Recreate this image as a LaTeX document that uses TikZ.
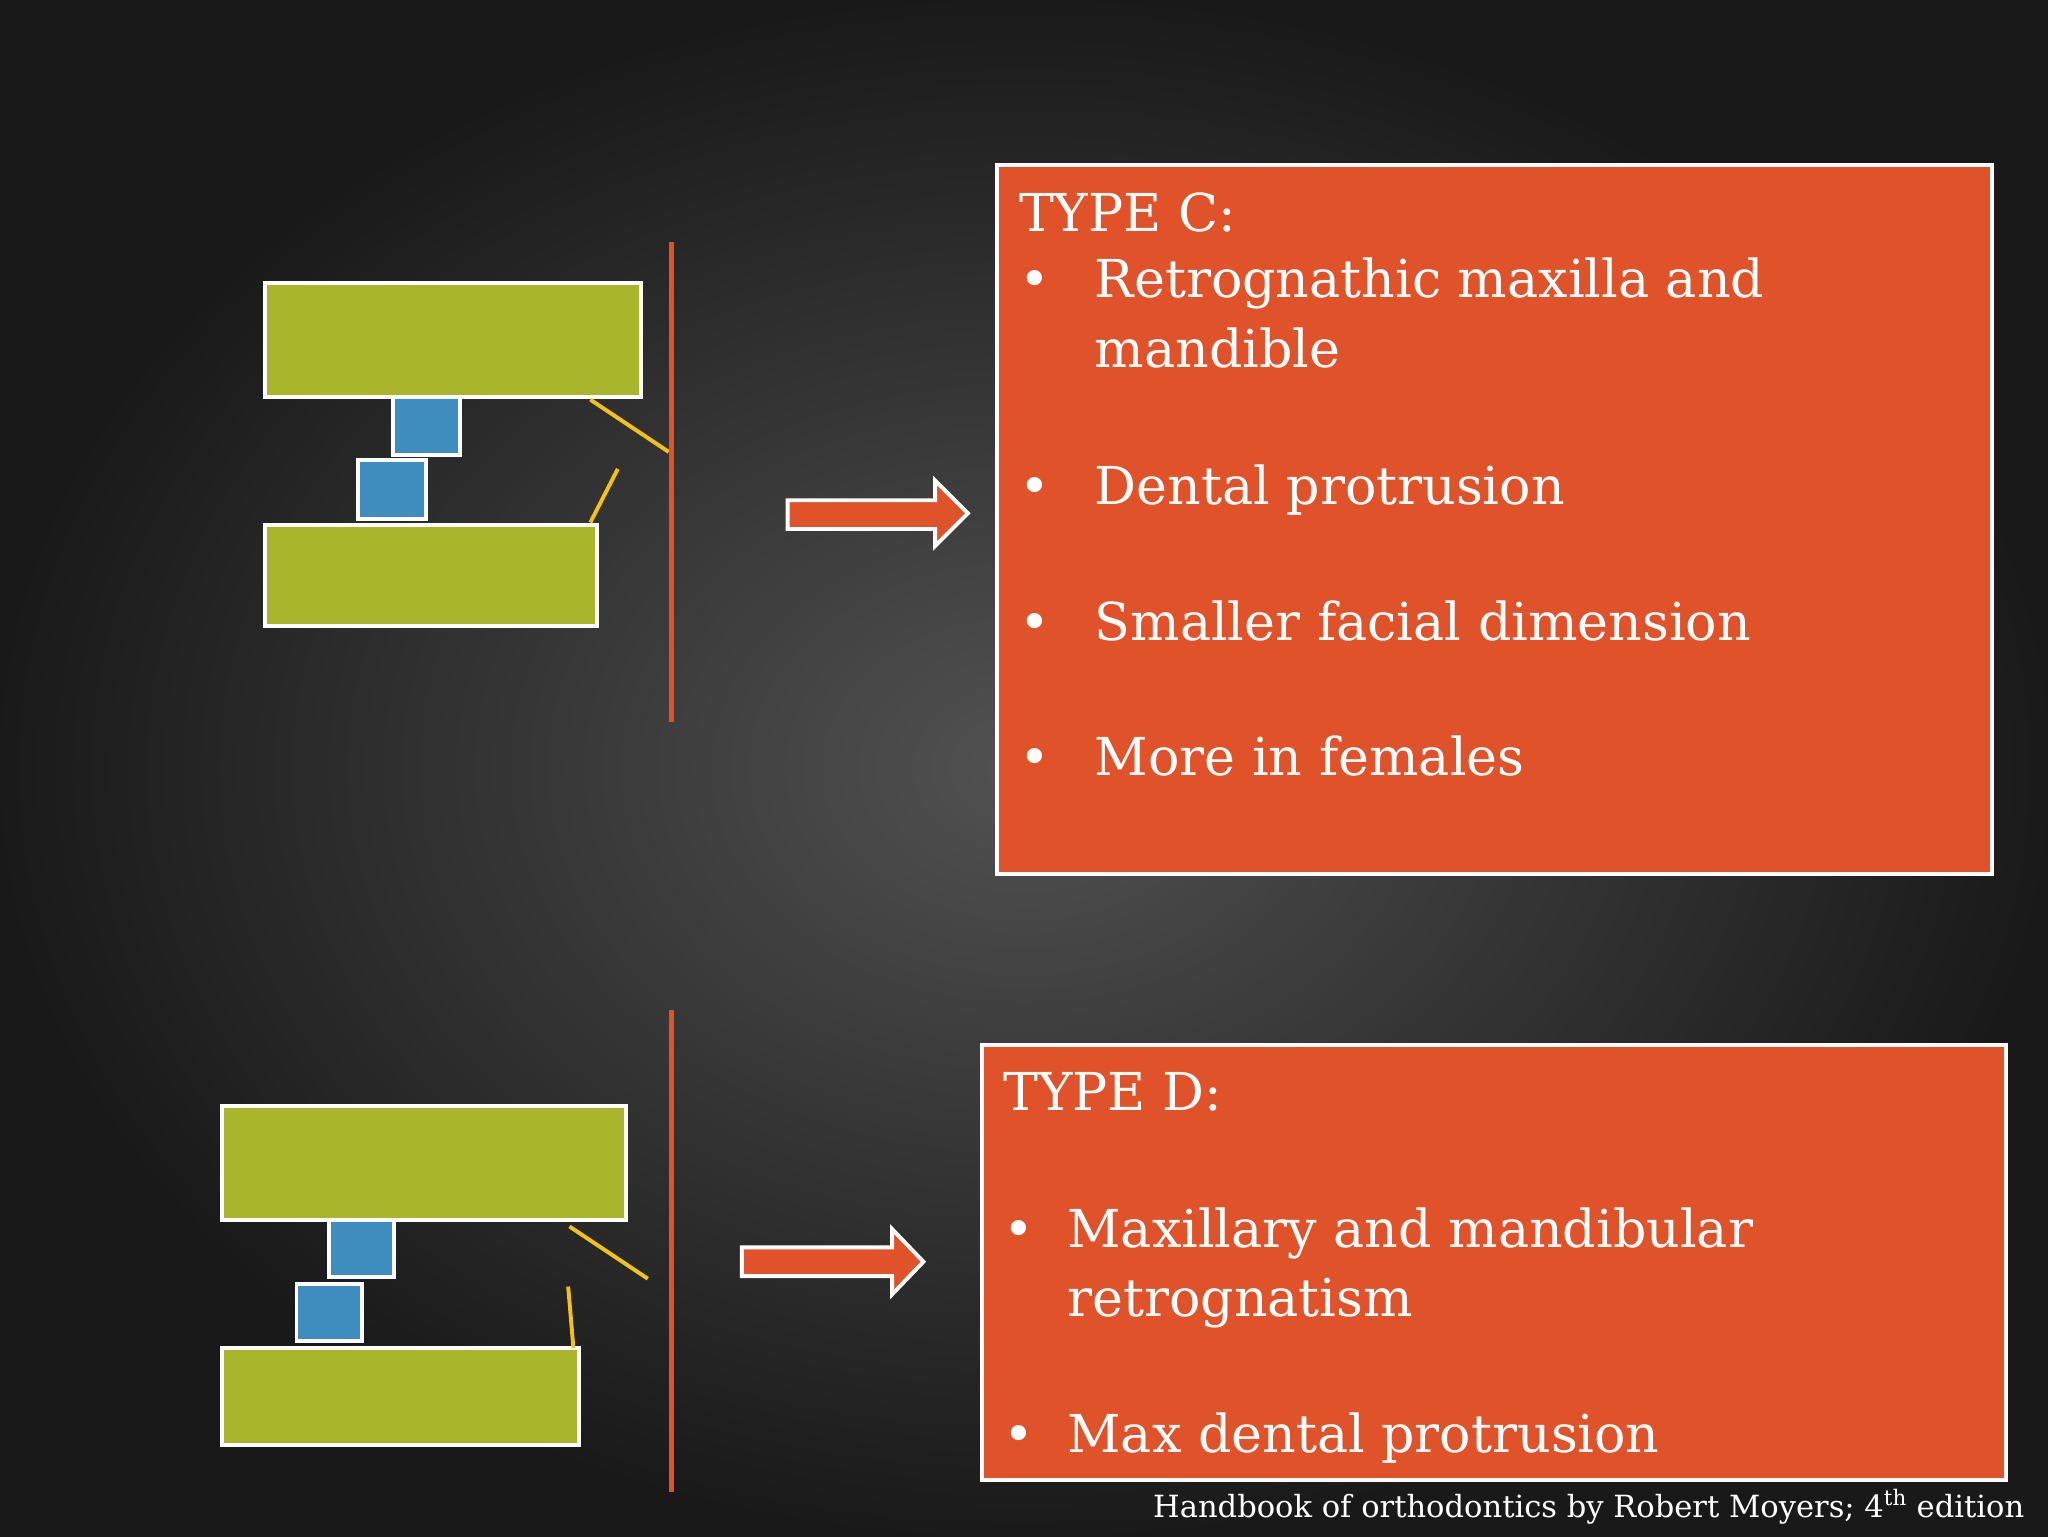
\documentclass[tikz,border=0pt]{standalone}
\usepackage{fontspec}
\setmainfont{DejaVu Serif}
\definecolor{org}{HTML}{E0532A}
\definecolor{grn}{HTML}{A9B52A}
\definecolor{blu}{HTML}{3E8DBE}
\definecolor{ylw}{HTML}{F2C218}
\begin{document}
\begin{tikzpicture}[x=1pt,y=-1pt,
  gbox/.style={draw=white,line width=3pt,fill=grn},
  bbox/.style={draw=white,line width=3pt,fill=blu},
  yl/.style={draw=ylw,line width=3pt},
  rl/.style={draw=org,line width=3.5pt},
  obox/.style={draw=white,line width=3pt,fill=org},
  txt/.style={text=white,anchor=base west,inner sep=0pt,font=\fontsize{40}{48}\selectfont}]
\useasboundingbox (0,0) rectangle (1568,1176);
\shade[inner color=black!68,outer color=black!90] (0,0) rectangle (1568,1176);
% top diagram
\draw[gbox] (203,217) rectangle (491,304);
\draw[bbox] (301,304) rectangle (352,348);
\draw[bbox] (274,352) rectangle (326,397);
\draw[gbox] (203,402) rectangle (457,479);
\draw[yl] (452,306) -- (512,346);
\draw[yl] (473,359) -- (452,400);
\draw[rl] (514,185) -- (514,553);
\draw[obox] (603,383) -- (716,383) -- (716,368) -- (741,393) -- (716,418) -- (716,405) -- (603,405) -- cycle;
\draw[obox] (763,126) rectangle (1525,669);
\node[txt] (tc) at (780,177) {TYPE C:};
\foreach \y/\b/\t in {228/1/Retrognathic maxilla and,281/0/mandible,386/1/Dental protrusion,490/1/Smaller facial dimension,594/1/More in females}{
  \ifnum\b=1 \node[txt] at (780,\y) {•};\fi
  \node[txt] at (838,\y) {\t};}
% bottom diagram
\draw[gbox] (170,847) rectangle (479,934);
\draw[bbox] (252,934) rectangle (302,978);
\draw[bbox] (227,983) rectangle (277,1027);
\draw[gbox] (170,1032) rectangle (443,1106);
\draw[yl] (436,939) -- (496,979);
\draw[yl] (435,985) -- (439,1032);
\draw[rl] (514,773) -- (514,1142);
\draw[obox] (568,955) -- (683,955) -- (683,941) -- (707,966) -- (683,991) -- (683,977) -- (568,977) -- cycle;
\draw[obox] (752,800) rectangle (1536,1133);
\node[txt] (td) at (768,850) {TYPE D:};
\foreach \y/\b/\t in {955/1/Maxillary and mandibular,1008/0/retrognatism,1112/1/Max dental protrusion}{
  \ifnum\b=1 \node[txt] at (768,\y) {•};\fi
  \node[txt] at (817,\y) {\t};}
\node[text=white,anchor=base east,inner sep=0pt,font=\fontsize{23.4}{28}\selectfont] (ft) at (1550,1162) {Handbook of orthodontics by Robert Moyers; 4\textsuperscript{th} edition};
\end{tikzpicture}
\end{document}
